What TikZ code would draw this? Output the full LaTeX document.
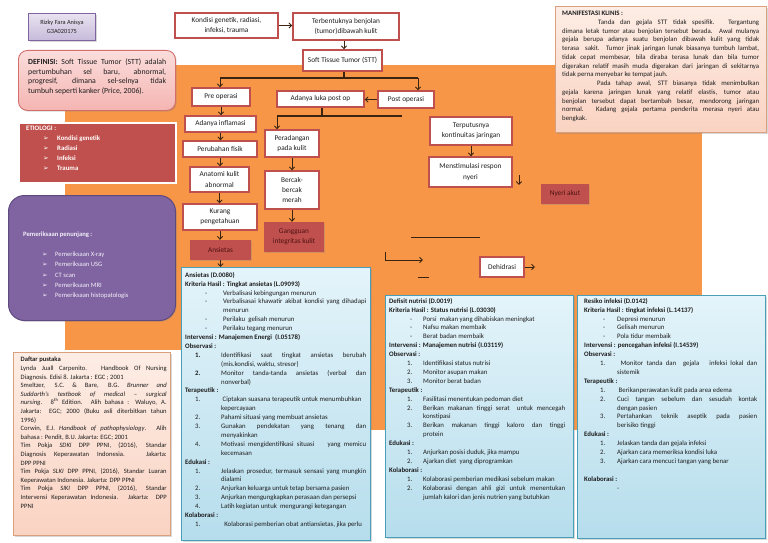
\documentclass[tikz,border=0pt]{standalone}
\usepackage{fontspec}
\setmainfont{Carlito}
\newfontfamily\symf{DejaVu Sans}
\usetikzlibrary{arrows.meta,shadows}
\definecolor{orng}{HTML}{F79646}
\definecolor{bred}{HTML}{C0504D}
\definecolor{lcol}{HTML}{3B2410}
\definecolor{txt}{HTML}{1E1E1E}
\definecolor{redtxt}{HTML}{4D1212}
\definecolor{tealb}{HTML}{4A9FB8}
\definecolor{blt}{HTML}{E4F4FA}
\definecolor{blb}{HTML}{B6DDEC}
\definecolor{purp}{HTML}{8064A2}
\definecolor{purpd}{HTML}{5F4A80}
\definecolor{lavt}{HTML}{E8E2F0}
\definecolor{lavb}{HTML}{C7BBDA}
\definecolor{pkt}{HTML}{FBDDDB}
\definecolor{pkb}{HTML}{F4B5B2}
\definecolor{pkd}{HTML}{D36E6B}
\definecolor{peat}{HTML}{FDEDE5}
\definecolor{peab}{HTML}{FAD3C2}
\definecolor{pead}{HTML}{D9A07E}
\definecolor{wtx}{HTML}{F4F0F8}
\newcommand\fsN{\fontsize{7.3pt}{10.3pt}\selectfont}
\newcommand\Hd[1]{\textbf{#1}\par}
\newcommand\Rl[1]{#1\par}
\newcommand\Jl[1]{\makebox[\linewidth][s]{#1}\par}
\newcommand\Ji[2]{\hspace*{#1}\makebox[\dimexpr\linewidth-#1\relax][s]{#2}\par}
\newcommand\Dr[1]{\hspace*{\dI}\makebox[\dT][l]{-}#1\par}
\newcommand\Dj[1]{\hspace*{\dI}\makebox[\dT][l]{-}\makebox[\dW][s]{#1}\par}
\newcommand\Dc[1]{\hspace*{\dI}\hspace*{\dT}#1\par}
\newcommand\Nr[2]{\hspace*{\nI}\makebox[\nT][l]{#1}#2\par}
\newcommand\Nj[2]{\hspace*{\nI}\makebox[\nT][l]{#1}\makebox[\nW][s]{#2}\par}
\newcommand\Nc[1]{\hspace*{\nI}\hspace*{\nT}#1\par}
\newcommand\Bl[1]{\hspace*{\bI}\makebox[\bT][l]{\symf ➢}#1\par}
\begin{document}
\begin{tikzpicture}[x=1pt,y=-1pt,
  shd/.style={drop shadow={opacity=0.3,shadow xshift=1.2pt,shadow yshift=-1.2pt}},
  flow/.style={draw=bred, line width=1.4pt, fill=white, text=txt, align=center, inner sep=0pt, font=\fsN, shd},
  dx/.style={fill=bred, text=redtxt, align=center, inner sep=0pt, font=\fsN, shd},
  arr/.style={draw=lcol, line width=0.9pt, -{Straight Barb[length=2.8pt,width=5.2pt]}},
  ln/.style={draw=lcol, line width=1.6pt},
  lnthin/.style={draw=lcol, line width=1pt},
  bx/.style={anchor=north west, inner sep=0pt},
  tx/.style={anchor=north west, inner sep=0pt, align=left, text=txt},
  bluebox/.style={bx, draw=tealb, line width=1pt, top color=blt, bottom color=blb, shd},
  peach/.style={bx, draw=pead, line width=0.8pt, top color=peat, bottom color=peab, shd}]
\useasboundingbox (0,0) rectangle (768,543);
\fill[white] (0,0) rectangle (768,543);
% orange background
\fill[orng] (65,65) rectangle (702,350);
\fill[orng] (181,350) rectangle (702,430);

% side boxes
\node[bx, draw=purp, line width=0.8pt, top color=lavt, bottom color=lavb, minimum width=67pt, minimum height=27pt, align=center, text=txt, font=\fontsize{6.3pt}{8.5pt}\selectfont, shd] (riz) at (28,13) {Rizky Fara Anisya\\G3A020175};

\node[bx, rounded corners=9pt, draw=pkd, line width=0.9pt, top color=pkt, bottom color=pkb, minimum width=157pt, minimum height=60pt, shd] (defbox) at (18,50) {};
\node[tx] (deftx) at (28,59) {\parbox[t]{138pt}{\fontsize{7.8pt}{9.4pt}\selectfont
\Jl{\textbf{DEFINISI:} Soft Tissue Tumor (STT) adalah}
\Jl{pertumbuhan sel baru, abnormal,}
\Jl{progresif, dimana sel-selnya tidak}
\Rl{tumbuh seperti kanker (Price, 2006).}}};

\node[bx, fill=bred, draw=white, line width=1.8pt, minimum width=157pt, minimum height=60pt, shd] (etbox) at (18,122) {};
\node[tx, text=white] (ettx) at (26,125.5) {\parbox[t]{140pt}{\fontsize{6.8pt}{10.2pt}\selectfont\bfseries\def\bI{17pt}\def\bT{14pt}
ETIOLOGI :\par
\Bl{Kondisi genetik}\Bl{Radiasi}\Bl{Infeksi}\Bl{Trauma}}};

\node[bx, rounded corners=16pt, fill=purp, draw=purpd, line width=1pt, minimum width=167pt, minimum height=125pt, shd] (pmbox) at (8,195) {};
\node[tx, text=wtx] (pmtx) at (23,231.5) {\parbox[t]{145pt}{\fontsize{6.6pt}{10.4pt}\selectfont\def\bI{19pt}\def\bT{13pt}
\textbf{Pemeriksaan penunjang :}\par\vspace{9.6pt}
\Bl{Pemeriksaan X-ray}\Bl{Pemeriksaan USG}\Bl{CT scan}\Bl{Pemeriksaan MRI}\Bl{Pemeriksaan histopatologis}}};

\node[peach, minimum width=157pt, minimum height=183pt] (dpbox) at (13,352) {};
\node[tx] (dptx) at (20.5,357) {\parbox[t]{146pt}{\fontsize{6.6pt}{8.6pt}\selectfont
\Hd{Daftar pustaka}
\Jl{Lynda Juall Carpenito. Handbook Of Nursing}
\Rl{Diagnosis. Edisi 8. Jakarta : EGC ; 2001}
\Jl{Smeltzer, S.C. \& Bare, B.G. \textit{Brunner and}}
\Jl{\textit{Suddarth's textbook of medical – surgical}}
\Jl{\textit{nursing}. 8\textsuperscript{th} Edition. Alih bahasa : Waluyo, A.}
\Jl{Jakarta: EGC; 2000 (Buku asli diterbitkan tahun}
\Rl{1996)}
\Jl{Corwin, E.J. \textit{Handbook of pathophysiology}. Alih}
\Rl{bahasa : Pendit, B.U. Jakarta: EGC; 2001}
\Jl{Tim Pokja \textit{SDKI} DPP PPNI, (2016), Standar}
\Jl{Diagnosis Keperawatan Indonesia. Jakarta:}
\Rl{DPP PPNI}
\Jl{Tim Pokja \textit{SLKI} DPP PPNI, (2016), Standar Luaran}
\Rl{Keperawatan Indonesia. Jakarta: DPP PPNI}
\Jl{Tim Pokja \textit{SIKI} DPP PPNI, (2016), Standar}
\Jl{Intervensi Keperawatan Indonesia. Jakarta: DPP}
\Rl{PPNI}}};

\node[peach, minimum width=211pt, minimum height=126pt] (mfbox) at (555,6) {};
\node[tx] (mftx) at (562,11) {\parbox[t]{197pt}{\fontsize{6.8pt}{8.75pt}\selectfont
\Hd{MANIFESTASI KLINIS :}
\Ji{36pt}{Tanda dan gejala STT tidak spesifik. Tergantung}
\Jl{dimana letak tumor atau benjolan tersebut berada. Awal mulanya}
\Jl{gejala berupa adanya suatu benjolan dibawah kulit yang tidak}
\Jl{terasa\ \ sakit. Tumor jinak jaringan lunak biasanya tumbuh lambat,}
\Jl{tidak cepat membesar, bila diraba terasa lunak dan bila tumor}
\Jl{digerakan relatif masih muda digerakan dari jaringan di sekitarnya}
\Rl{tidak perna menyebar ke tempat jauh.}
\Ji{35pt}{Pada tahap awal, STT biasanya tidak menimbulkan}
\Jl{gejala karena jaringan lunak yang relatif elastis, tumor atau}
\Jl{benjolan tersebut dapat bertambah besar, mendorong jaringan}
\Jl{normal. Kadang gejala pertama penderita merasa nyeri atau}
\Rl{bengkak.}}};

% flow nodes
\node[flow, minimum width=103pt, minimum height=25pt] (kond) at (226.5,25.5) {Kondisi genetik, radiasi,\\infeksi, trauma};
\node[flow, minimum width=106pt, minimum height=27pt] (terb) at (346,26.5) {Terbentuknya benjolan\\(tumor)dibawah kulit};
\node[flow, minimum width=79pt, minimum height=21pt] (stt) at (342.5,60.5) {Soft Tissue Tumor (STT)};
\node[flow, minimum width=58pt, minimum height=18pt] (pre) at (221,97) {Pre operasi};
\node[flow, minimum width=87pt, minimum height=16pt] (luka) at (320.5,99) {Adanya luka post op};
\node[flow, minimum width=56pt, minimum height=17pt] (post) at (406,99.5) {Post operasi};
\node[flow, minimum width=71pt, minimum height=16pt] (inflam) at (220.5,124) {Adanya inflamasi};
\node[flow, minimum width=74pt, minimum height=16pt] (fisik) at (220,149) {Perubahan fisik};
\node[flow, minimum width=59pt, minimum height=25pt] (anat) at (219.5,179.5) {Anatomi kulit\\abnormal};
\node[flow, minimum width=74pt, minimum height=26pt] (kurang) at (220,217) {Kurang\\pengetahuan};
\node[dx, minimum width=61pt, minimum height=20pt] (ansr) at (220.5,250) {Ansietas};
\node[flow, minimum width=54pt, minimum height=27pt] (perad) at (292,143.5) {Peradangan\\pada kulit};
\node[flow, minimum width=54pt, minimum height=38pt] (bercak) at (292,190) {Bercak-\\bercak\\merah};
\node[dx, minimum width=60pt, minimum height=30pt] (gangg) at (294,237) {Gangguan\\integritas kulit};
\node[flow, minimum width=82pt, minimum height=28pt] (terput) at (471,131) {Terputusnya\\kontinuitas jaringan};
\node[flow, minimum width=83pt, minimum height=30pt] (menst) at (470.5,172) {Menstimulasi respon\\nyeri};
\node[dx, minimum width=48pt, minimum height=20pt] (nyeri) at (565,194) {Nyeri akut};
\node[flow, minimum width=44pt, minimum height=20pt] (dehid) at (502,267) {Dehidrasi};

% nursing boxes
\node[bluebox, minimum width=189pt, minimum height=273pt] (ansbox) at (181,267) {};
\node[tx] (anstx) at (185,272) {\parbox[t]{184pt}{\fontsize{6.8pt}{8.9pt}\selectfont
\def\dI{20pt}\def\dT{18pt}\def\dW{143pt}\def\nI{10pt}\def\nT{26pt}\def\nW{145pt}
\Hd{Ansietas (D.0080)}
\Hd{Kriteria Hasil : Tingkat ansietas (L.09093)}
\Dr{Verbalisasi kebingungan menurun}
\Dj{Verbalisasai khawatir akibat kondisi yang dihadapi}
\Dc{menurun}
\Dr{Perilaku\ \ gelisah menurun}
\Dr{Perilaku tegang menurun}
\Hd{Intervensi : Manajemen Energi\ \ (I.05178)}
\Hd{Observasi :}
\Nj{\textbf{1.}}{Identifikasi saat tingkat ansietas berubah}
\Nc{(mis.kondisi, waktu, stresor)}
\Nj{\textbf{2.}}{Monitor tanda-tanda ansietas (verbal dan}
\Nc{nonverbal)}
\Hd{Terapeutik :}
\Nr{1.}{\ Ciptakan suasana terapeutik untuk menumbuhkan}
\Nc{kepercayaan}
\Nr{2.}{Pahami situasi yang membuat ansietas}
\Nj{3.}{Gunakan pendekatan yang tenang dan}
\Nc{menyakinkan}
\Nj{4.}{Motivasi mengidentifikasi situasi\ \ \ \ yang memicu}
\Nc{kecemasan}
\Hd{Edukasi :}
\Nj{1.}{Jelaskan prosedur, termasuk sensasi yang mungkin}
\Nc{dialami}
\Nr{2.}{Anjurkan keluarga untuk tetap bersama pasien}
\Nr{3.}{Anjurkan mengungkapkan perasaan dan persepsi}
\Nr{4.}{Latih kegiatan untuk\ \ mengurangi ketegangan}
\Hd{Kolaborasi :}
\Nr{1.}{\ \ Kolaborasi pemberian obat antiansietas, jika perlu}}};

\node[bluebox, minimum width=188pt, minimum height=242pt] (nutbox) at (385,295) {};
\node[tx] (nuttx) at (389,298) {\parbox[t]{178pt}{\fontsize{6.8pt}{8.9pt}\selectfont
\def\dI{21pt}\def\dT{13pt}\def\dW{142pt}\def\nI{18pt}\def\nT{16pt}\def\nW{142pt}
\Hd{Defisit nutrisi (D.0019)}
\Hd{Kriteria Hasil : Status nutrisi (L.03030)}
\Dr{Porsi\ \ makan yang dihabiskan meningkat}
\Dr{Nafsu makan membaik}
\Dr{Berat badan membaik}
\Hd{Intervensi : Manajemen nutrisi (I.03119)}
\Hd{Observasi :}
\Nr{1.}{Identifikasi status nutrisi}
\Nr{2.}{Monitor asupan makan}
\Nr{3.}{Monitor berat badan}
\Hd{Terapeutik :}
\Nr{1.}{Fasilitasi menentukan pedoman diet}
\Nj{2.}{Berikan makanan tinggi serat\ \ untuk mencegah}
\Nc{konstipasi}
\Nj{3.}{Berikan makanan tinggi kaloro dan tinggi}
\Nc{protein}
\Hd{Edukasi :}
\Nr{1.}{Anjurkan posisi duduk, jika mampu}
\Nr{2.}{Ajarkan diet\ \ yang diprogramkan}
\Hd{Kolaborasi :}
\Nr{1.}{Kolaborasi pemberian medikasi sebelum makan}
\Nj{2.}{Kolaborasi dengan ahli gizi untuk menentukan}
\Nc{jumlah kalori dan jenis nutrien yang butuhkan}}};

\node[bluebox, minimum width=188pt, minimum height=243pt] (infbox) at (577,295) {};
\node[tx] (inftx) at (584,298) {\parbox[t]{175pt}{\fontsize{6.8pt}{8.9pt}\selectfont
\def\dI{19pt}\def\dT{14pt}\def\dW{140pt}\def\nI{16pt}\def\nT{17pt}\def\nW{140pt}
\Hd{Resiko infeksi (D.0142)}
\Hd{Kriteria Hasil : tingkat infeksi (L.14137)}
\Dr{Depresi menurun}
\Dr{Gelisah menurun}
\Dr{Pola tidur membaik}
\Hd{Intervensi : pencegahan infeksi (I.14539)}
\Hd{Observasi :}
\Nj{1.}{\ Monitor tanda dan\ \ gejala\ \ \ infeksi lokal dan}
\Nc{sistemik}
\Hd{Terapeutik :}
\Nr{1.}{\ Berikanperawatan kulit pada area edema}
\Nj{2.}{Cuci tangan sebelum dan sesudah kontak}
\Nc{dengan pasien}
\Nj{3.}{Pertahankan teknik aseptik pada pasien}
\Nc{berisiko tinggi}
\Hd{Edukasi :}
\Nr{1.}{Jelaskan tanda dan gejala infeksi}
\Nr{2.}{Ajarkan cara memeriksa kondisi luka}
\Nr{3.}{Ajarkan cara mencuci tangan yang benar}
\mbox{}\par
\Hd{Kolaborasi :}
\Nc{-}}};

% connectors
\coordinate (sL) at (220,78); \coordinate (sR) at (418,78); \coordinate (sM) at (344,78);
\coordinate (lL) at (277,116); \coordinate (lR) at (402,116); \coordinate (lM) at (322,116);
\draw[arr] (kond.east) -- (kond.east -| terb.west);
\draw[arr] (terb.south -| sM) -- (sM |- stt.north);
\draw[ln] (stt.south -| sM) -- (sM);
\draw[ln] (sL) -- (sR);
\draw[arr] (sL) -- (sL |- pre.north);
\draw[arr] (sR) -- (sR |- post.north);
\draw[arr] (post.west) -- (post.west -| luka.east);
\draw[ln] (luka.south -| lM) -- (lM);
\draw[ln] (lL) -- (lR);
\draw[arr] (lL) -- (lL |- perad.north);
\draw[arr] (pre.south) -- (pre.south |- inflam.north);
\draw[arr] (inflam.south) -- (inflam.south |- fisik.north);
\draw[arr] (fisik.south) -- (fisik.south |- anat.north);
\draw[arr] (anat.south) -- (anat.south |- kurang.north);
\draw[arr] (kurang.south) -- (kurang.south |- ansr.north);
\draw[arr] (ansr.south) -- (ansr.south |- ansbox.north);
\draw[arr] (perad.south) -- (perad.south |- bercak.north);
\draw[arr] (bercak.south) -- (bercak.south |- gangg.north);
\draw[arr] (terput.south) -- (terput.south |- menst.north);
\coordinate (q1) at (519,175); \coordinate (q2) at (519,185);
\draw[arr] (q1) -- (q2);
\coordinate (h1) at (411,237); \coordinate (h2) at (480,237);
\draw[lnthin] (h1) -- (h2);
\coordinate (k1) at (385,252); \coordinate (k2) at (385,260); \coordinate (k3) at (423,260);
\draw[arr] (k1) -- (k2) -- (k3);
\coordinate (t1) at (418,277); \coordinate (t2) at (429,277);
\draw[lnthin] (t1) -- (t2);
\coordinate (d2) at (535,267);
\draw[arr] (dehid.east) -- (d2);
\end{tikzpicture}
\end{document}
